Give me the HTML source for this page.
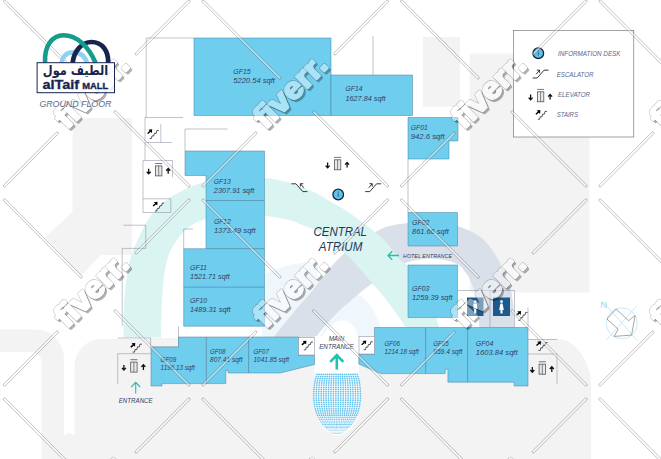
<!DOCTYPE html>
<html><head><meta charset="utf-8"><title>alTaif Mall - Ground Floor</title>
<style>html,body{margin:0;padding:0;background:#fff;}body{width:661px;height:459px;overflow:hidden;}svg{display:block;}text{font-family:"Liberation Sans",sans-serif;}.lb{font-style:italic;fill:#34415f;}.st{fill:#6fcdee;stroke:#4b7f9f;stroke-width:.5;stroke-linejoin:miter;}.ln{fill:none;stroke:#7d879d;stroke-width:.5;}</style></head><body>
<svg width="661" height="459" viewBox="0 0 661 459">
<defs>
<g id="stairs"><path d="M0.5 4.3L3.4 1.8" stroke="#000" stroke-width="1.5" fill="none"/><path d="M1.2 0.5L5 0.1L4.7 3.9Z" fill="#000"/><path d="M2.4 9.3H4.2L4.8 6.7H6.6L7.2 4.1H9L9.6 1.4H11.6" stroke="#222" stroke-width=".75" fill="none"/></g>
<g id="escR"><path d="M0 8.4H4.6L11.4 0.6H16" stroke="#222" stroke-width=".9" fill="none"/><path d="M3.6 4.6L6.9 0.6M4.2 0.5H7V3.3" stroke="#222" stroke-width=".9" fill="none"/></g>
<g id="elev"><path d="M1.6 5.6V10.4M-0.4 8.6L1.6 10.8L3.6 8.6" stroke="#111" stroke-width="1.3" fill="none"/><path d="M8.1 0.4H15.1" stroke="#555" stroke-width=".8" fill="none"/><rect x="8.4" y="2.8" width="6.4" height="10" fill="#e9e9e9" stroke="#555" stroke-width=".8"/><path d="M11.6 2.8V12.8" stroke="#555" stroke-width=".7"/><path d="M21.1 10.6V5.8M19.1 7.6L21.1 5.4L23.1 7.6" stroke="#111" stroke-width="1.3" fill="none"/></g>
<g id="info"><circle r="5.3" fill="#5fc1ea" stroke="#16233f" stroke-width="1.3"/><rect x="-.45" y="-1" width=".9" height="3.3" fill="#2a5577"/><circle cy="-2.4" r=".6" fill="#2a5577"/></g>
<clipPath id="arcclip"><rect x="0" y="0" width="661" height="337.5"/></clipPath>
</defs>
<rect width="661" height="459" fill="#fff"/>
<rect x="423" y="37" width="37" height="69.7" fill="#f3f3f3"/>
<rect x="469.7" y="53.6" width="119.8" height="238.9" fill="#f3f3f3"/>
<path d="M72.5 118H131.8V255H101L81 276L45.3 237.5L72.5 211.4Z" fill="#f3f3f3"/>
<path d="M74.5 459V366A27 27 0 0 1 101.5 339H557A34 48 0 0 1 591 388V459Z" fill="#f3f3f3"/>
<path d="M0 329.4H35A29 29 0 0 1 64 358.4V459H41.5V362A10 10 0 0 0 31.5 352H0Z" fill="#f3f3f3"/>
<path d="M64 436Q69.2 430 74.5 436V459H64Z" fill="#f3f3f3"/>
<g clip-path="url(#arcclip)">
<path d="M262 338V276C275 268 295 262 318 262V338Z" fill="#f0f7fc"/>
<path d="M318 338L332 318L345 303C350 297 354 294.5 358 295C363 296 368 302 372 308L379 322L384 338H358.5L356 330C352 322 345 319 338 321L330 326L321 338Z" fill="#f0f7fc"/>
<path d="M273.0 338.0C274.8 335.7 279.8 329.2 284.0 324.0C288.2 318.8 293.2 312.7 298.0 307.0C302.8 301.3 308.3 295.7 313.0 290.0C317.7 284.3 320.9 278.8 326.0 272.8C331.1 266.8 337.0 259.8 343.6 254.0C350.2 248.2 358.9 242.6 365.4 238.3C371.9 234.0 377.0 230.6 382.8 228.2C388.6 225.8 393.0 225.0 400.0 224.0C407.0 223.0 416.7 221.9 425.0 222.0C433.3 222.1 442.8 223.2 450.0 224.5C457.2 225.8 462.3 227.4 468.0 230.0C473.7 232.6 479.1 235.2 484.0 240.0C488.9 244.8 493.6 251.7 497.6 258.6C501.6 265.5 505.4 274.2 508.0 281.4C510.6 288.6 511.9 292.6 513.0 302.0C514.1 311.4 514.2 332.0 514.5 338.0L479.5 338.0C479.4 335.0 479.3 325.5 479.0 320.0C478.7 314.5 478.2 309.5 477.5 305.0C476.8 300.5 476.1 296.8 475.0 293.0C473.9 289.2 472.5 285.3 471.0 282.0C469.5 278.7 468.1 275.8 466.0 273.0C463.9 270.2 462.2 267.2 458.7 265.0C455.2 262.8 450.6 261.1 445.0 260.0C439.4 258.9 432.4 258.0 425.4 258.7C418.3 259.4 410.0 260.9 402.7 264.0C395.4 267.1 387.6 273.0 381.5 277.0C375.4 281.0 371.1 284.1 366.0 288.0C360.9 291.9 355.7 296.6 351.0 300.6C346.3 304.6 342.2 307.9 338.0 312.0C333.8 316.1 329.8 320.7 326.0 325.0C322.2 329.3 316.8 335.8 315.0 338.0Z" fill="#dae0ea"/>
<path d="M123.5 338.0C123.5 333.3 123.5 318.5 123.8 310.0C124.1 301.5 124.8 293.7 125.5 287.0C126.2 280.3 127.0 275.3 128.0 270.0C129.0 264.7 130.0 259.7 131.5 255.0C133.0 250.3 134.1 247.7 136.8 241.9C139.5 236.1 144.1 225.8 147.7 220.0C151.3 214.2 155.2 210.5 158.6 207.0C162.0 203.5 164.4 201.5 168.0 199.0C171.6 196.5 175.9 194.1 180.4 191.8C184.9 189.5 189.2 186.9 195.0 185.0C200.8 183.1 207.5 181.5 215.0 180.3C222.5 179.1 231.8 178.2 240.0 177.8C248.2 177.4 257.0 177.4 264.5 178.0C272.0 178.6 279.1 180.1 285.0 181.5C290.9 182.9 295.0 184.7 300.0 186.5C305.0 188.3 309.6 189.8 315.0 192.5C320.4 195.2 327.9 200.2 332.7 203.0C337.5 205.8 338.2 205.4 343.6 209.0C349.1 212.6 358.7 219.3 365.4 224.5C372.1 229.7 378.2 234.1 384.0 240.0C389.8 245.9 395.9 255.6 400.0 260.0C404.1 264.4 405.4 262.5 408.7 266.3C412.0 270.1 416.4 277.1 420.0 283.0C423.6 288.9 427.2 295.8 430.0 302.0C432.8 308.2 435.2 314.0 437.0 320.0C438.8 326.0 440.3 335.0 441.0 338.0L411.0 338.0C410.1 336.2 407.8 331.0 405.4 327.0C403.0 323.0 400.2 319.1 396.6 314.0C393.0 308.9 387.2 301.2 383.6 296.6C380.0 292.0 378.8 290.9 375.0 286.5C371.2 282.1 366.2 275.8 361.0 270.0C355.8 264.2 350.1 257.8 343.6 252.0C337.1 246.2 326.6 238.7 321.8 235.0C317.0 231.3 318.6 231.8 315.0 230.0C311.4 228.2 304.3 225.7 300.0 224.0C295.7 222.3 294.9 221.4 289.0 220.0C283.1 218.6 271.8 216.7 264.5 215.8C257.2 214.9 251.6 214.6 245.0 214.5C238.4 214.4 231.5 214.8 225.0 215.5C218.5 216.2 211.5 217.1 205.9 218.8C200.3 220.5 195.6 222.8 191.3 225.6C187.1 228.4 184.0 230.9 180.4 235.4C176.8 239.9 172.1 247.0 169.5 252.8C166.9 258.6 166.1 264.3 165.0 270.0C163.9 275.7 163.6 280.3 163.0 287.0C162.4 293.7 161.8 301.5 161.5 310.0C161.2 318.5 161.1 333.3 161.0 338.0Z" fill="#daf4f2"/>
</g>
<rect x="151" y="338" width="27.6" height="9" fill="#f3f3f3"/>
<rect x="314.5" y="336" width="44.5" height="37.5" fill="#fff"/>
<path class="ln" d="M146.2 117.5V38H194"/>
<path class="ln" d="M145 117.5H183"/>
<path class="ln" d="M145 117.5V160.5"/>
<path class="ln" d="M160.8 124V142.5M145 142.5H172"/>
<path class="ln" d="M185 151V129H227.5"/>
<path class="ln" d="M143 160.5H172.5V177.5M143 160.5V212.5H170.8V198.8H143"/>
<path class="ln" d="M123.5 225.2H145.8V248.4H122.2V325.8"/>
<path class="ln" d="M183.7 248.7V229H193"/>
<path class="ln" d="M178.5 326.3V347H151"/>
<path class="ln" d="M117.7 338H150.6V347"/>
<path class="ln" d="M117.7 384V353.7H151"/>
<path class="ln" d="M373 36V75"/>
<path class="ln" d="M408 159V213"/>
<path class="ln" d="M457.5 290.5H514.5V327.5M490 290.5V327.5"/>
<path class="ln" d="M528 307.5V327.5"/>
<path class="ln" d="M528 339.5H557M528 354H557V384"/>
<path class="st" d="M194 38H331V115.5H194Z"/>
<path class="st" d="M331 75H412.5V115.5H331Z"/>
<path class="st" d="M408 117.5H458V141H449V159H408Z"/>
<path class="st" d="M408 212.5H457.5V246H408Z"/>
<path class="st" d="M408 265H457.5V317.5H408Z"/>
<path class="st" d="M185 151H264.5V200.5H206V175.5H185Z"/>
<path class="st" d="M206 200.5H264.5V248.7H206Z"/>
<path class="st" d="M183.7 248.7H264.5V287.3H183.7Z"/>
<path class="st" d="M183.7 287.3H264.5V326.2H183.7Z"/>
<path class="st" d="M151 347H178.5V337H206.4V383.6H162V386H151Z"/>
<path class="st" d="M206.4 337H248.6V373H228.2V370.5H225.8V383.6H206.4Z"/>
<path class="st" d="M248.6 337H298.5V355H314.5V364.5L280.4 373H248.6Z"/>
<path class="st" d="M374.5 327.5H425.7V373.6H380.7L358.8 364V354.5H374.5Z"/>
<path class="st" d="M425.7 327.5H467.6V382.2H447.9V369.3H445.2V373.6H425.7Z"/>
<path class="st" d="M467.6 327.5H528V386H514.2V382.2H467.6Z"/>
<rect x="298.5" y="337.5" width="16" height="17.5" fill="#fff" stroke="#7d879d" stroke-width=".5"/>
<rect x="359" y="336.5" width="15.5" height="17.5" fill="#fff" stroke="#7d879d" stroke-width=".5"/>
<rect x="467" y="297.5" width="16.5" height="18.5" fill="#1c5a8e"/>
<rect x="493" y="297.5" width="17" height="18.5" fill="#1c5a8e"/>
<circle cx="475.2" cy="301.6" r="1.4" fill="#fff"/><path d="M473.4 303.6H477V309H476.3V313.6H474.1V309H473.4Z" fill="#fff"/>
<circle cx="501.5" cy="301.6" r="1.4" fill="#fff"/><path d="M500.4 303.6H502.6L503.8 310H502.5V313.6H500.5V310H499.2Z" fill="#fff"/>
<use href="#stairs" transform="translate(147.2 129.2)"/>
<use href="#stairs" transform="translate(152.6 201.7)"/>
<use href="#stairs" transform="translate(130.3 342.8)"/>
<use href="#stairs" transform="translate(301.4 340.6)"/>
<use href="#stairs" transform="translate(361.2 340.4)"/>
<use href="#stairs" transform="translate(516.0 311.0)"/>
<use href="#stairs" transform="translate(536.0 341.2)"/>
<use href="#stairs" transform="translate(535.4 110.0)"/>
<use href="#elev" transform="translate(147.1 163.1)"/>
<use href="#elev" transform="translate(326.0 157.0)"/>
<use href="#elev" transform="translate(122.3 359.3)"/>
<use href="#elev" transform="translate(530.7 361.4)"/>
<use href="#elev" transform="translate(529.0 89.0)"/>
<use href="#escR" transform="translate(365.2 183.2)"/>
<use href="#escR" transform="translate(307.4 183.2) scale(-1 1)"/>
<use href="#escR" transform="translate(532.6 69.6)"/>
<use href="#info" transform="translate(338.2 194.5)"/>
<use href="#info" transform="translate(538.3 53.2)"/>
<rect x="513.6" y="30.5" width="120.2" height="106.5" fill="#fff" stroke="#666" stroke-width=".6"/>
<use href="#stairs" transform="translate(535.4 110.0)"/>
<use href="#elev" transform="translate(529.0 89.0)"/>
<use href="#escR" transform="translate(532.6 69.6)"/>
<use href="#info" transform="translate(538.3 53.2)"/>
<text x="558.0" y="55.8" font-size="7.60" class="lb" textLength="62.5" lengthAdjust="spacingAndGlyphs" style="fill:#56688a">INFORMATION DESK</text>
<text x="556.7" y="76.7" font-size="7.60" class="lb" textLength="36.8" lengthAdjust="spacingAndGlyphs" style="fill:#56688a">ESCALATOR</text>
<text x="558.0" y="97.1" font-size="7.60" class="lb" textLength="32.0" lengthAdjust="spacingAndGlyphs" style="fill:#56688a">ELEVATOR</text>
<text x="556.7" y="117.2" font-size="7.60" class="lb" textLength="21.3" lengthAdjust="spacingAndGlyphs" style="fill:#56688a">STAIRS</text>
<text x="233.2" y="73.8" font-size="7.60" class="lb" textLength="17.5" lengthAdjust="spacingAndGlyphs">GF15</text>
<text x="233.2" y="83.0" font-size="7.60" class="lb" textLength="41.8" lengthAdjust="spacingAndGlyphs">5220.54 sqft</text>
<text x="345.5" y="91.2" font-size="7.60" class="lb" textLength="17.0" lengthAdjust="spacingAndGlyphs">GF14</text>
<text x="345.5" y="100.5" font-size="7.60" class="lb" textLength="40.0" lengthAdjust="spacingAndGlyphs">1627.84 sqft</text>
<text x="410.8" y="129.5" font-size="7.60" class="lb" textLength="17.0" lengthAdjust="spacingAndGlyphs">GF01</text>
<text x="410.8" y="138.8" font-size="7.60" class="lb" textLength="33.8" lengthAdjust="spacingAndGlyphs">942.6 sqft</text>
<text x="412.0" y="225.0" font-size="7.60" class="lb" textLength="17.5" lengthAdjust="spacingAndGlyphs">GF02</text>
<text x="412.0" y="234.2" font-size="7.60" class="lb" textLength="36.8" lengthAdjust="spacingAndGlyphs">861.66 sqft</text>
<text x="412.0" y="290.5" font-size="7.60" class="lb" textLength="17.5" lengthAdjust="spacingAndGlyphs">GF03</text>
<text x="412.0" y="299.5" font-size="7.60" class="lb" textLength="40.5" lengthAdjust="spacingAndGlyphs">1259.39 sqft</text>
<text x="475.8" y="345.5" font-size="7.60" class="lb" textLength="17.5" lengthAdjust="spacingAndGlyphs">GF04</text>
<text x="475.8" y="354.5" font-size="7.60" class="lb" textLength="41.8" lengthAdjust="spacingAndGlyphs">1603.84 sqft</text>
<text x="433.2" y="345.5" font-size="7.00" class="lb" textLength="15.5" lengthAdjust="spacingAndGlyphs">GF05</text>
<text x="433.2" y="353.8" font-size="7.00" class="lb" textLength="29.2" lengthAdjust="spacingAndGlyphs">959.4 sqft</text>
<text x="384.5" y="345.8" font-size="7.00" class="lb" textLength="15.5" lengthAdjust="spacingAndGlyphs">GF06</text>
<text x="384.5" y="353.8" font-size="7.00" class="lb" textLength="34.2" lengthAdjust="spacingAndGlyphs">1214.18 sqft</text>
<text x="253.5" y="354.0" font-size="7.00" class="lb" textLength="15.5" lengthAdjust="spacingAndGlyphs">GF07</text>
<text x="253.5" y="362.4" font-size="7.00" class="lb" textLength="35.5" lengthAdjust="spacingAndGlyphs">1041.85 sqft</text>
<text x="210.0" y="354.0" font-size="7.00" class="lb" textLength="15.5" lengthAdjust="spacingAndGlyphs">GF08</text>
<text x="210.0" y="362.4" font-size="7.00" class="lb" textLength="32.5" lengthAdjust="spacingAndGlyphs">807.41 sqft</text>
<text x="160.6" y="361.7" font-size="7.00" class="lb" textLength="15.5" lengthAdjust="spacingAndGlyphs">GF09</text>
<text x="160.6" y="370.0" font-size="7.00" class="lb" textLength="34.2" lengthAdjust="spacingAndGlyphs">1196.13 sqft</text>
<text x="190.0" y="302.7" font-size="7.60" class="lb" textLength="17.0" lengthAdjust="spacingAndGlyphs">GF10</text>
<text x="190.0" y="311.8" font-size="7.60" class="lb" textLength="40.6" lengthAdjust="spacingAndGlyphs">1489.31 sqft</text>
<text x="190.0" y="269.7" font-size="7.60" class="lb" textLength="17.0" lengthAdjust="spacingAndGlyphs">GF11</text>
<text x="190.0" y="279.0" font-size="7.60" class="lb" textLength="39.7" lengthAdjust="spacingAndGlyphs">1521.71 sqft</text>
<text x="213.9" y="223.7" font-size="7.60" class="lb" textLength="17.0" lengthAdjust="spacingAndGlyphs">GF12</text>
<text x="213.9" y="233.1" font-size="7.60" class="lb" textLength="41.7" lengthAdjust="spacingAndGlyphs">1373.49 sqft</text>
<text x="213.8" y="183.5" font-size="7.60" class="lb" textLength="17.0" lengthAdjust="spacingAndGlyphs">GF13</text>
<text x="213.8" y="192.8" font-size="7.60" class="lb" textLength="40.5" lengthAdjust="spacingAndGlyphs">2307.91 sqft</text>
<text x="313.6" y="235.6" font-size="13.00" class="lb" textLength="53.4" lengthAdjust="spacingAndGlyphs" style="fill:#27365a">CENTRAL</text>
<text x="318.8" y="250.7" font-size="13.00" class="lb" textLength="43.6" lengthAdjust="spacingAndGlyphs" style="fill:#27365a">ATRIUM</text>
<path d="M399 255.5H388M392.2 251.3L388 255.5L392.2 259.7" stroke="#22bfad" stroke-width="1.3" fill="none"/>
<text x="403.0" y="257.6" font-size="6.00" class="lb" textLength="49.0" lengthAdjust="spacingAndGlyphs">HOTEL ENTRANCE</text>
<text x="336.5" y="340.7" font-size="6.3" class="lb" text-anchor="middle">MAIN</text>
<text x="336.5" y="348.9" font-size="6.3" class="lb" text-anchor="middle">ENTRANCE</text>
<path d="M336.8 369.5V356.5M330.3 361.8L336.8 355.2L343.3 361.8" stroke="#1fc4ae" stroke-width="2.6" fill="none"/>
<path d="M135.7 393.5V382.5M131.2 387L135.7 382.3L140.2 387" stroke="#1fc4ae" stroke-width="1.1" fill="none"/>
<text x="135.7" y="402.8" font-size="6.4" class="lb" text-anchor="middle" textLength="34" lengthAdjust="spacingAndGlyphs">ENTRANCE</text>
<path d="M316.6 373H357.6C362 385 362.2 400 359.2 412C356 425 347 435 337.5 435.6C328 435 319 425 315.6 412C312.4 400 312.6 385 316.6 373Z" fill="#fff"/>
<g fill="#62c1ec"><circle cx="317.04" cy="374.40" r="0.87"/><circle cx="319.15" cy="374.40" r="0.87"/><circle cx="321.26" cy="374.40" r="0.87"/><circle cx="323.37" cy="374.40" r="0.87"/><circle cx="325.49" cy="374.40" r="0.87"/><circle cx="327.60" cy="374.40" r="0.87"/><circle cx="329.71" cy="374.40" r="0.87"/><circle cx="331.82" cy="374.40" r="0.87"/><circle cx="333.93" cy="374.40" r="0.87"/><circle cx="336.04" cy="374.40" r="0.87"/><circle cx="338.16" cy="374.40" r="0.87"/><circle cx="340.27" cy="374.40" r="0.87"/><circle cx="342.38" cy="374.40" r="0.87"/><circle cx="344.49" cy="374.40" r="0.87"/><circle cx="346.60" cy="374.40" r="0.87"/><circle cx="348.71" cy="374.40" r="0.87"/><circle cx="350.83" cy="374.40" r="0.87"/><circle cx="352.94" cy="374.40" r="0.87"/><circle cx="355.05" cy="374.40" r="0.87"/><circle cx="357.16" cy="374.40" r="0.87"/><circle cx="316.35" cy="376.51" r="0.88"/><circle cx="318.53" cy="376.51" r="0.88"/><circle cx="320.72" cy="376.51" r="0.88"/><circle cx="322.90" cy="376.51" r="0.88"/><circle cx="325.08" cy="376.51" r="0.88"/><circle cx="327.27" cy="376.51" r="0.88"/><circle cx="329.45" cy="376.51" r="0.88"/><circle cx="331.64" cy="376.51" r="0.88"/><circle cx="333.82" cy="376.51" r="0.88"/><circle cx="336.01" cy="376.51" r="0.88"/><circle cx="338.19" cy="376.51" r="0.88"/><circle cx="340.38" cy="376.51" r="0.88"/><circle cx="342.56" cy="376.51" r="0.88"/><circle cx="344.75" cy="376.51" r="0.88"/><circle cx="346.93" cy="376.51" r="0.88"/><circle cx="349.12" cy="376.51" r="0.88"/><circle cx="351.30" cy="376.51" r="0.88"/><circle cx="353.48" cy="376.51" r="0.88"/><circle cx="355.67" cy="376.51" r="0.88"/><circle cx="357.85" cy="376.51" r="0.88"/><circle cx="315.64" cy="378.66" r="0.88"/><circle cx="317.90" cy="378.66" r="0.88"/><circle cx="320.16" cy="378.66" r="0.88"/><circle cx="322.42" cy="378.66" r="0.88"/><circle cx="324.68" cy="378.66" r="0.88"/><circle cx="326.93" cy="378.66" r="0.88"/><circle cx="329.19" cy="378.66" r="0.88"/><circle cx="331.45" cy="378.66" r="0.88"/><circle cx="333.71" cy="378.66" r="0.88"/><circle cx="335.97" cy="378.66" r="0.88"/><circle cx="338.23" cy="378.66" r="0.88"/><circle cx="340.49" cy="378.66" r="0.88"/><circle cx="342.75" cy="378.66" r="0.88"/><circle cx="345.01" cy="378.66" r="0.88"/><circle cx="347.27" cy="378.66" r="0.88"/><circle cx="349.52" cy="378.66" r="0.88"/><circle cx="351.78" cy="378.66" r="0.88"/><circle cx="354.04" cy="378.66" r="0.88"/><circle cx="356.30" cy="378.66" r="0.88"/><circle cx="358.56" cy="378.66" r="0.88"/><circle cx="315.08" cy="380.81" r="0.88"/><circle cx="317.40" cy="380.81" r="0.88"/><circle cx="319.71" cy="380.81" r="0.88"/><circle cx="322.03" cy="380.81" r="0.88"/><circle cx="324.35" cy="380.81" r="0.88"/><circle cx="326.67" cy="380.81" r="0.88"/><circle cx="328.99" cy="380.81" r="0.88"/><circle cx="331.30" cy="380.81" r="0.88"/><circle cx="333.62" cy="380.81" r="0.88"/><circle cx="335.94" cy="380.81" r="0.88"/><circle cx="338.26" cy="380.81" r="0.88"/><circle cx="340.58" cy="380.81" r="0.88"/><circle cx="342.90" cy="380.81" r="0.88"/><circle cx="345.21" cy="380.81" r="0.88"/><circle cx="347.53" cy="380.81" r="0.88"/><circle cx="349.85" cy="380.81" r="0.88"/><circle cx="352.17" cy="380.81" r="0.88"/><circle cx="354.49" cy="380.81" r="0.88"/><circle cx="356.80" cy="380.81" r="0.88"/><circle cx="359.12" cy="380.81" r="0.88"/><circle cx="314.76" cy="382.96" r="0.88"/><circle cx="317.11" cy="382.96" r="0.88"/><circle cx="319.46" cy="382.96" r="0.88"/><circle cx="321.81" cy="382.96" r="0.88"/><circle cx="324.16" cy="382.96" r="0.88"/><circle cx="326.52" cy="382.96" r="0.88"/><circle cx="328.87" cy="382.96" r="0.88"/><circle cx="331.22" cy="382.96" r="0.88"/><circle cx="333.57" cy="382.96" r="0.88"/><circle cx="335.92" cy="382.96" r="0.88"/><circle cx="338.28" cy="382.96" r="0.88"/><circle cx="340.63" cy="382.96" r="0.88"/><circle cx="342.98" cy="382.96" r="0.88"/><circle cx="345.33" cy="382.96" r="0.88"/><circle cx="347.68" cy="382.96" r="0.88"/><circle cx="350.04" cy="382.96" r="0.88"/><circle cx="352.39" cy="382.96" r="0.88"/><circle cx="354.74" cy="382.96" r="0.88"/><circle cx="357.09" cy="382.96" r="0.88"/><circle cx="359.44" cy="382.96" r="0.88"/><circle cx="314.43" cy="385.11" r="0.88"/><circle cx="316.82" cy="385.11" r="0.88"/><circle cx="319.21" cy="385.11" r="0.88"/><circle cx="321.59" cy="385.11" r="0.88"/><circle cx="323.98" cy="385.11" r="0.88"/><circle cx="326.36" cy="385.11" r="0.88"/><circle cx="328.75" cy="385.11" r="0.88"/><circle cx="331.14" cy="385.11" r="0.88"/><circle cx="333.52" cy="385.11" r="0.88"/><circle cx="335.91" cy="385.11" r="0.88"/><circle cx="338.29" cy="385.11" r="0.88"/><circle cx="340.68" cy="385.11" r="0.88"/><circle cx="343.06" cy="385.11" r="0.88"/><circle cx="345.45" cy="385.11" r="0.88"/><circle cx="347.84" cy="385.11" r="0.88"/><circle cx="350.22" cy="385.11" r="0.88"/><circle cx="352.61" cy="385.11" r="0.88"/><circle cx="354.99" cy="385.11" r="0.88"/><circle cx="357.38" cy="385.11" r="0.88"/><circle cx="359.77" cy="385.11" r="0.88"/><circle cx="314.11" cy="387.26" r="0.88"/><circle cx="316.53" cy="387.26" r="0.88"/><circle cx="318.95" cy="387.26" r="0.88"/><circle cx="321.37" cy="387.26" r="0.88"/><circle cx="323.79" cy="387.26" r="0.88"/><circle cx="326.21" cy="387.26" r="0.88"/><circle cx="328.63" cy="387.26" r="0.88"/><circle cx="331.05" cy="387.26" r="0.88"/><circle cx="333.47" cy="387.26" r="0.88"/><circle cx="335.89" cy="387.26" r="0.88"/><circle cx="338.31" cy="387.26" r="0.88"/><circle cx="340.73" cy="387.26" r="0.88"/><circle cx="343.15" cy="387.26" r="0.88"/><circle cx="345.57" cy="387.26" r="0.88"/><circle cx="347.99" cy="387.26" r="0.88"/><circle cx="350.41" cy="387.26" r="0.88"/><circle cx="352.83" cy="387.26" r="0.88"/><circle cx="355.25" cy="387.26" r="0.88"/><circle cx="357.67" cy="387.26" r="0.88"/><circle cx="360.09" cy="387.26" r="0.88"/><circle cx="313.96" cy="389.41" r="0.88"/><circle cx="316.39" cy="389.41" r="0.88"/><circle cx="318.83" cy="389.41" r="0.88"/><circle cx="321.27" cy="389.41" r="0.88"/><circle cx="323.70" cy="389.41" r="0.88"/><circle cx="326.14" cy="389.41" r="0.88"/><circle cx="328.57" cy="389.41" r="0.88"/><circle cx="331.01" cy="389.41" r="0.88"/><circle cx="333.45" cy="389.41" r="0.88"/><circle cx="335.88" cy="389.41" r="0.88"/><circle cx="338.32" cy="389.41" r="0.88"/><circle cx="340.75" cy="389.41" r="0.88"/><circle cx="343.19" cy="389.41" r="0.88"/><circle cx="345.63" cy="389.41" r="0.88"/><circle cx="348.06" cy="389.41" r="0.88"/><circle cx="350.50" cy="389.41" r="0.88"/><circle cx="352.93" cy="389.41" r="0.88"/><circle cx="355.37" cy="389.41" r="0.88"/><circle cx="357.81" cy="389.41" r="0.88"/><circle cx="360.24" cy="389.41" r="0.88"/><circle cx="313.89" cy="391.56" r="0.88"/><circle cx="316.34" cy="391.56" r="0.88"/><circle cx="318.78" cy="391.56" r="0.88"/><circle cx="321.22" cy="391.56" r="0.88"/><circle cx="323.66" cy="391.56" r="0.88"/><circle cx="326.11" cy="391.56" r="0.88"/><circle cx="328.55" cy="391.56" r="0.88"/><circle cx="330.99" cy="391.56" r="0.88"/><circle cx="333.44" cy="391.56" r="0.88"/><circle cx="335.88" cy="391.56" r="0.88"/><circle cx="338.32" cy="391.56" r="0.88"/><circle cx="340.76" cy="391.56" r="0.88"/><circle cx="343.21" cy="391.56" r="0.88"/><circle cx="345.65" cy="391.56" r="0.88"/><circle cx="348.09" cy="391.56" r="0.88"/><circle cx="350.54" cy="391.56" r="0.88"/><circle cx="352.98" cy="391.56" r="0.88"/><circle cx="355.42" cy="391.56" r="0.88"/><circle cx="357.86" cy="391.56" r="0.88"/><circle cx="360.31" cy="391.56" r="0.88"/><circle cx="313.83" cy="393.71" r="0.88"/><circle cx="316.28" cy="393.71" r="0.88"/><circle cx="318.73" cy="393.71" r="0.88"/><circle cx="321.18" cy="393.71" r="0.88"/><circle cx="323.63" cy="393.71" r="0.88"/><circle cx="326.08" cy="393.71" r="0.88"/><circle cx="328.53" cy="393.71" r="0.88"/><circle cx="330.98" cy="393.71" r="0.88"/><circle cx="333.43" cy="393.71" r="0.88"/><circle cx="335.88" cy="393.71" r="0.88"/><circle cx="338.32" cy="393.71" r="0.88"/><circle cx="340.77" cy="393.71" r="0.88"/><circle cx="343.22" cy="393.71" r="0.88"/><circle cx="345.67" cy="393.71" r="0.88"/><circle cx="348.12" cy="393.71" r="0.88"/><circle cx="350.57" cy="393.71" r="0.88"/><circle cx="353.02" cy="393.71" r="0.88"/><circle cx="355.47" cy="393.71" r="0.88"/><circle cx="357.92" cy="393.71" r="0.88"/><circle cx="360.37" cy="393.71" r="0.88"/><circle cx="313.76" cy="395.86" r="0.88"/><circle cx="316.22" cy="395.86" r="0.88"/><circle cx="318.68" cy="395.86" r="0.88"/><circle cx="321.13" cy="395.86" r="0.88"/><circle cx="323.59" cy="395.86" r="0.88"/><circle cx="326.05" cy="395.86" r="0.88"/><circle cx="328.50" cy="395.86" r="0.88"/><circle cx="330.96" cy="395.86" r="0.88"/><circle cx="333.42" cy="395.86" r="0.88"/><circle cx="335.87" cy="395.86" r="0.88"/><circle cx="338.33" cy="395.86" r="0.88"/><circle cx="340.78" cy="395.86" r="0.88"/><circle cx="343.24" cy="395.86" r="0.88"/><circle cx="345.70" cy="395.86" r="0.88"/><circle cx="348.15" cy="395.86" r="0.88"/><circle cx="350.61" cy="395.86" r="0.88"/><circle cx="353.07" cy="395.86" r="0.88"/><circle cx="355.52" cy="395.86" r="0.88"/><circle cx="357.98" cy="395.86" r="0.88"/><circle cx="360.44" cy="395.86" r="0.88"/><circle cx="313.70" cy="398.01" r="0.88"/><circle cx="316.16" cy="398.01" r="0.88"/><circle cx="318.63" cy="398.01" r="0.88"/><circle cx="321.09" cy="398.01" r="0.88"/><circle cx="323.55" cy="398.01" r="0.88"/><circle cx="326.02" cy="398.01" r="0.88"/><circle cx="328.48" cy="398.01" r="0.88"/><circle cx="330.94" cy="398.01" r="0.88"/><circle cx="333.41" cy="398.01" r="0.88"/><circle cx="335.87" cy="398.01" r="0.88"/><circle cx="338.33" cy="398.01" r="0.88"/><circle cx="340.79" cy="398.01" r="0.88"/><circle cx="343.26" cy="398.01" r="0.88"/><circle cx="345.72" cy="398.01" r="0.88"/><circle cx="348.18" cy="398.01" r="0.88"/><circle cx="350.65" cy="398.01" r="0.88"/><circle cx="353.11" cy="398.01" r="0.88"/><circle cx="355.57" cy="398.01" r="0.88"/><circle cx="358.04" cy="398.01" r="0.88"/><circle cx="360.50" cy="398.01" r="0.88"/><circle cx="313.97" cy="400.16" r="0.88"/><circle cx="316.40" cy="400.16" r="0.88"/><circle cx="318.84" cy="400.16" r="0.88"/><circle cx="321.27" cy="400.16" r="0.88"/><circle cx="323.71" cy="400.16" r="0.88"/><circle cx="326.14" cy="400.16" r="0.88"/><circle cx="328.58" cy="400.16" r="0.88"/><circle cx="331.01" cy="400.16" r="0.88"/><circle cx="333.45" cy="400.16" r="0.88"/><circle cx="335.88" cy="400.16" r="0.88"/><circle cx="338.32" cy="400.16" r="0.88"/><circle cx="340.75" cy="400.16" r="0.88"/><circle cx="343.19" cy="400.16" r="0.88"/><circle cx="345.62" cy="400.16" r="0.88"/><circle cx="348.06" cy="400.16" r="0.88"/><circle cx="350.49" cy="400.16" r="0.88"/><circle cx="352.93" cy="400.16" r="0.88"/><circle cx="355.36" cy="400.16" r="0.88"/><circle cx="357.80" cy="400.16" r="0.88"/><circle cx="360.23" cy="400.16" r="0.88"/><circle cx="314.24" cy="402.31" r="0.88"/><circle cx="316.65" cy="402.31" r="0.88"/><circle cx="319.05" cy="402.31" r="0.88"/><circle cx="321.46" cy="402.31" r="0.88"/><circle cx="323.86" cy="402.31" r="0.88"/><circle cx="326.27" cy="402.31" r="0.88"/><circle cx="328.68" cy="402.31" r="0.88"/><circle cx="331.08" cy="402.31" r="0.88"/><circle cx="333.49" cy="402.31" r="0.88"/><circle cx="335.90" cy="402.31" r="0.88"/><circle cx="338.30" cy="402.31" r="0.88"/><circle cx="340.71" cy="402.31" r="0.88"/><circle cx="343.12" cy="402.31" r="0.88"/><circle cx="345.52" cy="402.31" r="0.88"/><circle cx="347.93" cy="402.31" r="0.88"/><circle cx="350.34" cy="402.31" r="0.88"/><circle cx="352.74" cy="402.31" r="0.88"/><circle cx="355.15" cy="402.31" r="0.88"/><circle cx="357.55" cy="402.31" r="0.88"/><circle cx="359.96" cy="402.31" r="0.88"/><circle cx="314.51" cy="404.46" r="0.88"/><circle cx="316.89" cy="404.46" r="0.88"/><circle cx="319.26" cy="404.46" r="0.88"/><circle cx="321.64" cy="404.46" r="0.88"/><circle cx="324.02" cy="404.46" r="0.88"/><circle cx="326.40" cy="404.46" r="0.88"/><circle cx="328.78" cy="404.46" r="0.88"/><circle cx="331.15" cy="404.46" r="0.88"/><circle cx="333.53" cy="404.46" r="0.88"/><circle cx="335.91" cy="404.46" r="0.88"/><circle cx="338.29" cy="404.46" r="0.88"/><circle cx="340.67" cy="404.46" r="0.88"/><circle cx="343.05" cy="404.46" r="0.88"/><circle cx="345.42" cy="404.46" r="0.88"/><circle cx="347.80" cy="404.46" r="0.88"/><circle cx="350.18" cy="404.46" r="0.88"/><circle cx="352.56" cy="404.46" r="0.88"/><circle cx="354.94" cy="404.46" r="0.88"/><circle cx="357.31" cy="404.46" r="0.88"/><circle cx="359.69" cy="404.46" r="0.88"/><circle cx="314.85" cy="406.61" r="0.88"/><circle cx="317.19" cy="406.61" r="0.88"/><circle cx="319.54" cy="406.61" r="0.88"/><circle cx="321.88" cy="406.61" r="0.88"/><circle cx="324.22" cy="406.61" r="0.88"/><circle cx="326.56" cy="406.61" r="0.88"/><circle cx="328.90" cy="406.61" r="0.88"/><circle cx="331.25" cy="406.61" r="0.88"/><circle cx="333.59" cy="406.61" r="0.88"/><circle cx="335.93" cy="406.61" r="0.88"/><circle cx="338.27" cy="406.61" r="0.88"/><circle cx="340.61" cy="406.61" r="0.88"/><circle cx="342.95" cy="406.61" r="0.88"/><circle cx="345.30" cy="406.61" r="0.88"/><circle cx="347.64" cy="406.61" r="0.88"/><circle cx="349.98" cy="406.61" r="0.88"/><circle cx="352.32" cy="406.61" r="0.88"/><circle cx="354.66" cy="406.61" r="0.88"/><circle cx="357.01" cy="406.61" r="0.88"/><circle cx="359.35" cy="406.61" r="0.88"/><circle cx="315.39" cy="408.76" r="0.88"/><circle cx="317.68" cy="408.76" r="0.88"/><circle cx="319.96" cy="408.76" r="0.88"/><circle cx="322.25" cy="408.76" r="0.88"/><circle cx="324.53" cy="408.76" r="0.88"/><circle cx="326.82" cy="408.76" r="0.88"/><circle cx="329.10" cy="408.76" r="0.88"/><circle cx="331.39" cy="408.76" r="0.88"/><circle cx="333.67" cy="408.76" r="0.88"/><circle cx="335.96" cy="408.76" r="0.88"/><circle cx="338.24" cy="408.76" r="0.88"/><circle cx="340.53" cy="408.76" r="0.88"/><circle cx="342.81" cy="408.76" r="0.88"/><circle cx="345.10" cy="408.76" r="0.88"/><circle cx="347.38" cy="408.76" r="0.88"/><circle cx="349.67" cy="408.76" r="0.88"/><circle cx="351.95" cy="408.76" r="0.88"/><circle cx="354.24" cy="408.76" r="0.88"/><circle cx="356.52" cy="408.76" r="0.88"/><circle cx="358.81" cy="408.76" r="0.88"/><circle cx="315.93" cy="410.91" r="0.88"/><circle cx="318.16" cy="410.91" r="0.88"/><circle cx="320.39" cy="410.91" r="0.88"/><circle cx="322.61" cy="410.91" r="0.88"/><circle cx="324.84" cy="410.91" r="0.88"/><circle cx="327.07" cy="410.91" r="0.88"/><circle cx="329.30" cy="410.91" r="0.88"/><circle cx="331.53" cy="410.91" r="0.88"/><circle cx="333.76" cy="410.91" r="0.88"/><circle cx="335.99" cy="410.91" r="0.88"/><circle cx="338.21" cy="410.91" r="0.88"/><circle cx="340.44" cy="410.91" r="0.88"/><circle cx="342.67" cy="410.91" r="0.88"/><circle cx="344.90" cy="410.91" r="0.88"/><circle cx="347.13" cy="410.91" r="0.88"/><circle cx="349.36" cy="410.91" r="0.88"/><circle cx="351.59" cy="410.91" r="0.88"/><circle cx="353.81" cy="410.91" r="0.88"/><circle cx="356.04" cy="410.91" r="0.88"/><circle cx="358.27" cy="410.91" r="0.88"/><circle cx="316.64" cy="413.06" r="0.88"/><circle cx="318.80" cy="413.06" r="0.88"/><circle cx="320.95" cy="413.06" r="0.88"/><circle cx="323.10" cy="413.06" r="0.88"/><circle cx="325.26" cy="413.06" r="0.88"/><circle cx="327.41" cy="413.06" r="0.88"/><circle cx="329.56" cy="413.06" r="0.88"/><circle cx="331.72" cy="413.06" r="0.88"/><circle cx="333.87" cy="413.06" r="0.88"/><circle cx="336.02" cy="413.06" r="0.88"/><circle cx="338.18" cy="413.06" r="0.88"/><circle cx="340.33" cy="413.06" r="0.88"/><circle cx="342.48" cy="413.06" r="0.88"/><circle cx="344.64" cy="413.06" r="0.88"/><circle cx="346.79" cy="413.06" r="0.88"/><circle cx="348.94" cy="413.06" r="0.88"/><circle cx="351.10" cy="413.06" r="0.88"/><circle cx="353.25" cy="413.06" r="0.88"/><circle cx="355.40" cy="413.06" r="0.88"/><circle cx="357.56" cy="413.06" r="0.88"/><circle cx="317.54" cy="415.21" r="0.84"/><circle cx="319.60" cy="415.21" r="0.84"/><circle cx="321.66" cy="415.21" r="0.84"/><circle cx="323.72" cy="415.21" r="0.84"/><circle cx="325.77" cy="415.21" r="0.84"/><circle cx="327.83" cy="415.21" r="0.84"/><circle cx="329.89" cy="415.21" r="0.84"/><circle cx="331.95" cy="415.21" r="0.84"/><circle cx="334.01" cy="415.21" r="0.84"/><circle cx="336.07" cy="415.21" r="0.84"/><circle cx="338.13" cy="415.21" r="0.84"/><circle cx="340.19" cy="415.21" r="0.84"/><circle cx="342.25" cy="415.21" r="0.84"/><circle cx="344.31" cy="415.21" r="0.84"/><circle cx="346.37" cy="415.21" r="0.84"/><circle cx="348.43" cy="415.21" r="0.84"/><circle cx="350.48" cy="415.21" r="0.84"/><circle cx="352.54" cy="415.21" r="0.84"/><circle cx="354.60" cy="415.21" r="0.84"/><circle cx="356.66" cy="415.21" r="0.84"/><circle cx="318.40" cy="417.27" r="0.81"/><circle cx="320.36" cy="417.27" r="0.81"/><circle cx="322.33" cy="417.27" r="0.81"/><circle cx="324.30" cy="417.27" r="0.81"/><circle cx="326.27" cy="417.27" r="0.81"/><circle cx="328.24" cy="417.27" r="0.81"/><circle cx="330.21" cy="417.27" r="0.81"/><circle cx="332.18" cy="417.27" r="0.81"/><circle cx="334.15" cy="417.27" r="0.81"/><circle cx="336.12" cy="417.27" r="0.81"/><circle cx="338.08" cy="417.27" r="0.81"/><circle cx="340.05" cy="417.27" r="0.81"/><circle cx="342.02" cy="417.27" r="0.81"/><circle cx="343.99" cy="417.27" r="0.81"/><circle cx="345.96" cy="417.27" r="0.81"/><circle cx="347.93" cy="417.27" r="0.81"/><circle cx="349.90" cy="417.27" r="0.81"/><circle cx="351.87" cy="417.27" r="0.81"/><circle cx="353.84" cy="417.27" r="0.81"/><circle cx="355.80" cy="417.27" r="0.81"/><circle cx="319.42" cy="419.24" r="0.76"/><circle cx="321.28" cy="419.24" r="0.76"/><circle cx="323.14" cy="419.24" r="0.76"/><circle cx="325.01" cy="419.24" r="0.76"/><circle cx="326.87" cy="419.24" r="0.76"/><circle cx="328.73" cy="419.24" r="0.76"/><circle cx="330.59" cy="419.24" r="0.76"/><circle cx="332.45" cy="419.24" r="0.76"/><circle cx="334.31" cy="419.24" r="0.76"/><circle cx="336.17" cy="419.24" r="0.76"/><circle cx="338.03" cy="419.24" r="0.76"/><circle cx="339.89" cy="419.24" r="0.76"/><circle cx="341.75" cy="419.24" r="0.76"/><circle cx="343.61" cy="419.24" r="0.76"/><circle cx="345.47" cy="419.24" r="0.76"/><circle cx="347.33" cy="419.24" r="0.76"/><circle cx="349.19" cy="419.24" r="0.76"/><circle cx="351.06" cy="419.24" r="0.76"/><circle cx="352.92" cy="419.24" r="0.76"/><circle cx="354.78" cy="419.24" r="0.76"/><circle cx="320.51" cy="421.10" r="0.72"/><circle cx="322.25" cy="421.10" r="0.72"/><circle cx="324.00" cy="421.10" r="0.72"/><circle cx="325.75" cy="421.10" r="0.72"/><circle cx="327.49" cy="421.10" r="0.72"/><circle cx="329.24" cy="421.10" r="0.72"/><circle cx="330.99" cy="421.10" r="0.72"/><circle cx="332.73" cy="421.10" r="0.72"/><circle cx="334.48" cy="421.10" r="0.72"/><circle cx="336.23" cy="421.10" r="0.72"/><circle cx="337.97" cy="421.10" r="0.72"/><circle cx="339.72" cy="421.10" r="0.72"/><circle cx="341.47" cy="421.10" r="0.72"/><circle cx="343.21" cy="421.10" r="0.72"/><circle cx="344.96" cy="421.10" r="0.72"/><circle cx="346.71" cy="421.10" r="0.72"/><circle cx="348.45" cy="421.10" r="0.72"/><circle cx="350.20" cy="421.10" r="0.72"/><circle cx="351.95" cy="421.10" r="0.72"/><circle cx="353.69" cy="421.10" r="0.72"/><circle cx="321.53" cy="422.85" r="0.67"/><circle cx="323.17" cy="422.85" r="0.67"/><circle cx="324.81" cy="422.85" r="0.67"/><circle cx="326.44" cy="422.85" r="0.67"/><circle cx="328.08" cy="422.85" r="0.67"/><circle cx="329.72" cy="422.85" r="0.67"/><circle cx="331.36" cy="422.85" r="0.67"/><circle cx="333.00" cy="422.85" r="0.67"/><circle cx="334.64" cy="422.85" r="0.67"/><circle cx="336.28" cy="422.85" r="0.67"/><circle cx="337.92" cy="422.85" r="0.67"/><circle cx="339.56" cy="422.85" r="0.67"/><circle cx="341.20" cy="422.85" r="0.67"/><circle cx="342.84" cy="422.85" r="0.67"/><circle cx="344.48" cy="422.85" r="0.67"/><circle cx="346.12" cy="422.85" r="0.67"/><circle cx="347.76" cy="422.85" r="0.67"/><circle cx="349.39" cy="422.85" r="0.67"/><circle cx="351.03" cy="422.85" r="0.67"/><circle cx="352.67" cy="422.85" r="0.67"/><circle cx="322.62" cy="424.49" r="0.63"/><circle cx="324.14" cy="424.49" r="0.63"/><circle cx="325.67" cy="424.49" r="0.63"/><circle cx="327.19" cy="424.49" r="0.63"/><circle cx="328.72" cy="424.49" r="0.63"/><circle cx="330.24" cy="424.49" r="0.63"/><circle cx="331.76" cy="424.49" r="0.63"/><circle cx="333.29" cy="424.49" r="0.63"/><circle cx="334.81" cy="424.49" r="0.63"/><circle cx="336.34" cy="424.49" r="0.63"/><circle cx="337.86" cy="424.49" r="0.63"/><circle cx="339.39" cy="424.49" r="0.63"/><circle cx="340.91" cy="424.49" r="0.63"/><circle cx="342.44" cy="424.49" r="0.63"/><circle cx="343.96" cy="424.49" r="0.63"/><circle cx="345.48" cy="424.49" r="0.63"/><circle cx="347.01" cy="424.49" r="0.63"/><circle cx="348.53" cy="424.49" r="0.63"/><circle cx="350.06" cy="424.49" r="0.63"/><circle cx="351.58" cy="424.49" r="0.63"/><circle cx="323.93" cy="426.01" r="0.57"/><circle cx="325.32" cy="426.01" r="0.57"/><circle cx="326.70" cy="426.01" r="0.57"/><circle cx="328.09" cy="426.01" r="0.57"/><circle cx="329.47" cy="426.01" r="0.57"/><circle cx="330.86" cy="426.01" r="0.57"/><circle cx="332.25" cy="426.01" r="0.57"/><circle cx="333.63" cy="426.01" r="0.57"/><circle cx="335.02" cy="426.01" r="0.57"/><circle cx="336.41" cy="426.01" r="0.57"/><circle cx="337.79" cy="426.01" r="0.57"/><circle cx="339.18" cy="426.01" r="0.57"/><circle cx="340.57" cy="426.01" r="0.57"/><circle cx="341.95" cy="426.01" r="0.57"/><circle cx="343.34" cy="426.01" r="0.57"/><circle cx="344.73" cy="426.01" r="0.57"/><circle cx="346.11" cy="426.01" r="0.57"/><circle cx="347.50" cy="426.01" r="0.57"/><circle cx="348.88" cy="426.01" r="0.57"/><circle cx="350.27" cy="426.01" r="0.57"/><circle cx="325.22" cy="427.51" r="0.51"/><circle cx="326.47" cy="427.51" r="0.51"/><circle cx="327.72" cy="427.51" r="0.51"/><circle cx="328.97" cy="427.51" r="0.51"/><circle cx="330.22" cy="427.51" r="0.51"/><circle cx="331.47" cy="427.51" r="0.51"/><circle cx="332.72" cy="427.51" r="0.51"/><circle cx="333.97" cy="427.51" r="0.51"/><circle cx="335.22" cy="427.51" r="0.51"/><circle cx="336.47" cy="427.51" r="0.51"/><circle cx="337.73" cy="427.51" r="0.51"/><circle cx="338.98" cy="427.51" r="0.51"/><circle cx="340.23" cy="427.51" r="0.51"/><circle cx="341.48" cy="427.51" r="0.51"/><circle cx="342.73" cy="427.51" r="0.51"/><circle cx="343.98" cy="427.51" r="0.51"/><circle cx="345.23" cy="427.51" r="0.51"/><circle cx="346.48" cy="427.51" r="0.51"/><circle cx="347.73" cy="427.51" r="0.51"/><circle cx="348.98" cy="427.51" r="0.51"/><circle cx="326.51" cy="429.01" r="0.46"/><circle cx="327.63" cy="429.01" r="0.46"/><circle cx="328.74" cy="429.01" r="0.46"/><circle cx="329.86" cy="429.01" r="0.46"/><circle cx="330.97" cy="429.01" r="0.46"/><circle cx="332.09" cy="429.01" r="0.46"/><circle cx="333.20" cy="429.01" r="0.46"/><circle cx="334.31" cy="429.01" r="0.46"/><circle cx="335.43" cy="429.01" r="0.46"/><circle cx="336.54" cy="429.01" r="0.46"/><circle cx="337.66" cy="429.01" r="0.46"/><circle cx="338.77" cy="429.01" r="0.46"/><circle cx="339.89" cy="429.01" r="0.46"/><circle cx="341.00" cy="429.01" r="0.46"/><circle cx="342.11" cy="429.01" r="0.46"/><circle cx="343.23" cy="429.01" r="0.46"/><circle cx="344.34" cy="429.01" r="0.46"/><circle cx="345.46" cy="429.01" r="0.46"/><circle cx="346.57" cy="429.01" r="0.46"/><circle cx="347.69" cy="429.01" r="0.46"/><circle cx="328.39" cy="430.51" r="0.38"/><circle cx="329.31" cy="430.51" r="0.38"/><circle cx="330.22" cy="430.51" r="0.38"/><circle cx="331.14" cy="430.51" r="0.38"/><circle cx="332.06" cy="430.51" r="0.38"/><circle cx="332.97" cy="430.51" r="0.38"/><circle cx="333.89" cy="430.51" r="0.38"/><circle cx="334.81" cy="430.51" r="0.38"/><circle cx="335.72" cy="430.51" r="0.38"/><circle cx="336.64" cy="430.51" r="0.38"/><circle cx="337.56" cy="430.51" r="0.38"/><circle cx="338.48" cy="430.51" r="0.38"/><circle cx="339.39" cy="430.51" r="0.38"/><circle cx="340.31" cy="430.51" r="0.38"/><circle cx="341.23" cy="430.51" r="0.38"/><circle cx="342.14" cy="430.51" r="0.38"/><circle cx="343.06" cy="430.51" r="0.38"/><circle cx="343.98" cy="430.51" r="0.38"/><circle cx="344.89" cy="430.51" r="0.38"/><circle cx="345.81" cy="430.51" r="0.38"/><circle cx="330.26" cy="432.01" r="0.35"/><circle cx="330.98" cy="432.01" r="0.35"/><circle cx="331.70" cy="432.01" r="0.35"/><circle cx="332.42" cy="432.01" r="0.35"/><circle cx="333.14" cy="432.01" r="0.35"/><circle cx="333.86" cy="432.01" r="0.35"/><circle cx="334.58" cy="432.01" r="0.35"/><circle cx="335.30" cy="432.01" r="0.35"/><circle cx="336.02" cy="432.01" r="0.35"/><circle cx="336.74" cy="432.01" r="0.35"/><circle cx="337.46" cy="432.01" r="0.35"/><circle cx="338.18" cy="432.01" r="0.35"/><circle cx="338.90" cy="432.01" r="0.35"/><circle cx="339.62" cy="432.01" r="0.35"/><circle cx="340.34" cy="432.01" r="0.35"/><circle cx="341.06" cy="432.01" r="0.35"/><circle cx="341.78" cy="432.01" r="0.35"/><circle cx="342.50" cy="432.01" r="0.35"/><circle cx="343.22" cy="432.01" r="0.35"/><circle cx="343.94" cy="432.01" r="0.35"/><circle cx="332.68" cy="433.51" r="0.35"/><circle cx="333.14" cy="433.51" r="0.35"/><circle cx="333.61" cy="433.51" r="0.35"/><circle cx="334.07" cy="433.51" r="0.35"/><circle cx="334.54" cy="433.51" r="0.35"/><circle cx="335.01" cy="433.51" r="0.35"/><circle cx="335.47" cy="433.51" r="0.35"/><circle cx="335.94" cy="433.51" r="0.35"/><circle cx="336.40" cy="433.51" r="0.35"/><circle cx="336.87" cy="433.51" r="0.35"/><circle cx="337.33" cy="433.51" r="0.35"/><circle cx="337.80" cy="433.51" r="0.35"/><circle cx="338.26" cy="433.51" r="0.35"/><circle cx="338.73" cy="433.51" r="0.35"/><circle cx="339.19" cy="433.51" r="0.35"/><circle cx="339.66" cy="433.51" r="0.35"/><circle cx="340.13" cy="433.51" r="0.35"/><circle cx="340.59" cy="433.51" r="0.35"/><circle cx="341.06" cy="433.51" r="0.35"/><circle cx="341.52" cy="433.51" r="0.35"/></g>
<g stroke="#a6d8f2" stroke-width=".6" fill="none"><circle cx="621.8" cy="323.3" r="15.5"/><path d="M602.4 301.1L637 340.3M636.4 306.3L606.3 340.3"/></g>
<path d="M616.1 309L628.6 320.7L635.1 315.5L631.6 335.1L614.2 336.4L618.1 329.2L607 319Z" fill="none" stroke="#6a6a6a" stroke-width=".6"/>
<text x="600.3" y="308.2" font-size="9.5" fill="#a6d8f2">N</text>
<g><g transform="translate(4.6 1.1) rotate(45.1)"><rect x="-1.2" y="-1.20" width="110.9" height="2.40" rx="1.20" fill="#fff" fill-opacity=".4" stroke="#000" stroke-opacity=".25" stroke-width=".9"/></g><g transform="translate(-9.6 -13.1) rotate(-134.9)"><rect x="-1.2" y="-1.20" width="106.9" height="2.40" rx="1.20" fill="#fff" fill-opacity=".4" stroke="#000" stroke-opacity=".25" stroke-width=".9"/></g><g transform="translate(4.6 -13.1) rotate(-45.1)"><rect x="-1.2" y="-1.20" width="76.9" height="2.40" rx="1.20" fill="#fff" fill-opacity=".4" stroke="#000" stroke-opacity=".25" stroke-width=".9"/></g><g transform="translate(-9.6 1.1) rotate(134.9)"><rect x="-1.2" y="-1.20" width="76.9" height="2.40" rx="1.20" fill="#fff" fill-opacity=".4" stroke="#000" stroke-opacity=".25" stroke-width=".9"/></g><g transform="translate(4.6 200.1) rotate(45.1)"><rect x="-1.2" y="-1.20" width="110.9" height="2.40" rx="1.20" fill="#fff" fill-opacity=".4" stroke="#000" stroke-opacity=".25" stroke-width=".9"/></g><g transform="translate(-9.6 185.9) rotate(-134.9)"><rect x="-1.2" y="-1.20" width="106.9" height="2.40" rx="1.20" fill="#fff" fill-opacity=".4" stroke="#000" stroke-opacity=".25" stroke-width=".9"/></g><g transform="translate(4.6 185.9) rotate(-45.1)"><rect x="-1.2" y="-1.20" width="76.9" height="2.40" rx="1.20" fill="#fff" fill-opacity=".4" stroke="#000" stroke-opacity=".25" stroke-width=".9"/></g><g transform="translate(-9.6 200.1) rotate(134.9)"><rect x="-1.2" y="-1.20" width="76.9" height="2.40" rx="1.20" fill="#fff" fill-opacity=".4" stroke="#000" stroke-opacity=".25" stroke-width=".9"/></g><g transform="translate(4.6 399.1) rotate(45.1)"><rect x="-1.2" y="-1.20" width="110.9" height="2.40" rx="1.20" fill="#fff" fill-opacity=".4" stroke="#000" stroke-opacity=".25" stroke-width=".9"/></g><g transform="translate(-9.6 384.9) rotate(-134.9)"><rect x="-1.2" y="-1.20" width="106.9" height="2.40" rx="1.20" fill="#fff" fill-opacity=".4" stroke="#000" stroke-opacity=".25" stroke-width=".9"/></g><g transform="translate(4.6 384.9) rotate(-45.1)"><rect x="-1.2" y="-1.20" width="76.9" height="2.40" rx="1.20" fill="#fff" fill-opacity=".4" stroke="#000" stroke-opacity=".25" stroke-width=".9"/></g><g transform="translate(-9.6 399.1) rotate(134.9)"><rect x="-1.2" y="-1.20" width="76.9" height="2.40" rx="1.20" fill="#fff" fill-opacity=".4" stroke="#000" stroke-opacity=".25" stroke-width=".9"/></g><g transform="translate(4.6 598.1) rotate(45.1)"><rect x="-1.2" y="-1.20" width="110.9" height="2.40" rx="1.20" fill="#fff" fill-opacity=".4" stroke="#000" stroke-opacity=".25" stroke-width=".9"/></g><g transform="translate(-9.6 583.9) rotate(-134.9)"><rect x="-1.2" y="-1.20" width="106.9" height="2.40" rx="1.20" fill="#fff" fill-opacity=".4" stroke="#000" stroke-opacity=".25" stroke-width=".9"/></g><g transform="translate(4.6 583.9) rotate(-45.1)"><rect x="-1.2" y="-1.20" width="76.9" height="2.40" rx="1.20" fill="#fff" fill-opacity=".4" stroke="#000" stroke-opacity=".25" stroke-width=".9"/></g><g transform="translate(-9.6 598.1) rotate(134.9)"><rect x="-1.2" y="-1.20" width="76.9" height="2.40" rx="1.20" fill="#fff" fill-opacity=".4" stroke="#000" stroke-opacity=".25" stroke-width=".9"/></g><g transform="translate(203.1 1.1) rotate(45.1)"><rect x="-1.2" y="-1.20" width="110.9" height="2.40" rx="1.20" fill="#fff" fill-opacity=".4" stroke="#000" stroke-opacity=".25" stroke-width=".9"/></g><g transform="translate(188.9 -13.1) rotate(-134.9)"><rect x="-1.2" y="-1.20" width="106.9" height="2.40" rx="1.20" fill="#fff" fill-opacity=".4" stroke="#000" stroke-opacity=".25" stroke-width=".9"/></g><g transform="translate(203.1 -13.1) rotate(-45.1)"><rect x="-1.2" y="-1.20" width="76.9" height="2.40" rx="1.20" fill="#fff" fill-opacity=".4" stroke="#000" stroke-opacity=".25" stroke-width=".9"/></g><g transform="translate(188.9 1.1) rotate(134.9)"><rect x="-1.2" y="-1.20" width="76.9" height="2.40" rx="1.20" fill="#fff" fill-opacity=".4" stroke="#000" stroke-opacity=".25" stroke-width=".9"/></g><g transform="translate(203.1 200.1) rotate(45.1)"><rect x="-1.2" y="-1.20" width="110.9" height="2.40" rx="1.20" fill="#fff" fill-opacity=".4" stroke="#000" stroke-opacity=".25" stroke-width=".9"/></g><g transform="translate(188.9 185.9) rotate(-134.9)"><rect x="-1.2" y="-1.20" width="106.9" height="2.40" rx="1.20" fill="#fff" fill-opacity=".4" stroke="#000" stroke-opacity=".25" stroke-width=".9"/></g><g transform="translate(203.1 185.9) rotate(-45.1)"><rect x="-1.2" y="-1.20" width="76.9" height="2.40" rx="1.20" fill="#fff" fill-opacity=".4" stroke="#000" stroke-opacity=".25" stroke-width=".9"/></g><g transform="translate(188.9 200.1) rotate(134.9)"><rect x="-1.2" y="-1.20" width="76.9" height="2.40" rx="1.20" fill="#fff" fill-opacity=".4" stroke="#000" stroke-opacity=".25" stroke-width=".9"/></g><g transform="translate(203.1 399.1) rotate(45.1)"><rect x="-1.2" y="-1.20" width="110.9" height="2.40" rx="1.20" fill="#fff" fill-opacity=".4" stroke="#000" stroke-opacity=".25" stroke-width=".9"/></g><g transform="translate(188.9 384.9) rotate(-134.9)"><rect x="-1.2" y="-1.20" width="106.9" height="2.40" rx="1.20" fill="#fff" fill-opacity=".4" stroke="#000" stroke-opacity=".25" stroke-width=".9"/></g><g transform="translate(203.1 384.9) rotate(-45.1)"><rect x="-1.2" y="-1.20" width="76.9" height="2.40" rx="1.20" fill="#fff" fill-opacity=".4" stroke="#000" stroke-opacity=".25" stroke-width=".9"/></g><g transform="translate(188.9 399.1) rotate(134.9)"><rect x="-1.2" y="-1.20" width="76.9" height="2.40" rx="1.20" fill="#fff" fill-opacity=".4" stroke="#000" stroke-opacity=".25" stroke-width=".9"/></g><g transform="translate(203.1 598.1) rotate(45.1)"><rect x="-1.2" y="-1.20" width="110.9" height="2.40" rx="1.20" fill="#fff" fill-opacity=".4" stroke="#000" stroke-opacity=".25" stroke-width=".9"/></g><g transform="translate(188.9 583.9) rotate(-134.9)"><rect x="-1.2" y="-1.20" width="106.9" height="2.40" rx="1.20" fill="#fff" fill-opacity=".4" stroke="#000" stroke-opacity=".25" stroke-width=".9"/></g><g transform="translate(203.1 583.9) rotate(-45.1)"><rect x="-1.2" y="-1.20" width="76.9" height="2.40" rx="1.20" fill="#fff" fill-opacity=".4" stroke="#000" stroke-opacity=".25" stroke-width=".9"/></g><g transform="translate(188.9 598.1) rotate(134.9)"><rect x="-1.2" y="-1.20" width="76.9" height="2.40" rx="1.20" fill="#fff" fill-opacity=".4" stroke="#000" stroke-opacity=".25" stroke-width=".9"/></g><g transform="translate(401.6 1.1) rotate(45.1)"><rect x="-1.2" y="-1.20" width="110.9" height="2.40" rx="1.20" fill="#fff" fill-opacity=".4" stroke="#000" stroke-opacity=".25" stroke-width=".9"/></g><g transform="translate(387.4 -13.1) rotate(-134.9)"><rect x="-1.2" y="-1.20" width="106.9" height="2.40" rx="1.20" fill="#fff" fill-opacity=".4" stroke="#000" stroke-opacity=".25" stroke-width=".9"/></g><g transform="translate(401.6 -13.1) rotate(-45.1)"><rect x="-1.2" y="-1.20" width="76.9" height="2.40" rx="1.20" fill="#fff" fill-opacity=".4" stroke="#000" stroke-opacity=".25" stroke-width=".9"/></g><g transform="translate(387.4 1.1) rotate(134.9)"><rect x="-1.2" y="-1.20" width="76.9" height="2.40" rx="1.20" fill="#fff" fill-opacity=".4" stroke="#000" stroke-opacity=".25" stroke-width=".9"/></g><g transform="translate(401.6 200.1) rotate(45.1)"><rect x="-1.2" y="-1.20" width="110.9" height="2.40" rx="1.20" fill="#fff" fill-opacity=".4" stroke="#000" stroke-opacity=".25" stroke-width=".9"/></g><g transform="translate(387.4 185.9) rotate(-134.9)"><rect x="-1.2" y="-1.20" width="106.9" height="2.40" rx="1.20" fill="#fff" fill-opacity=".4" stroke="#000" stroke-opacity=".25" stroke-width=".9"/></g><g transform="translate(401.6 185.9) rotate(-45.1)"><rect x="-1.2" y="-1.20" width="76.9" height="2.40" rx="1.20" fill="#fff" fill-opacity=".4" stroke="#000" stroke-opacity=".25" stroke-width=".9"/></g><g transform="translate(387.4 200.1) rotate(134.9)"><rect x="-1.2" y="-1.20" width="76.9" height="2.40" rx="1.20" fill="#fff" fill-opacity=".4" stroke="#000" stroke-opacity=".25" stroke-width=".9"/></g><g transform="translate(401.6 399.1) rotate(45.1)"><rect x="-1.2" y="-1.20" width="110.9" height="2.40" rx="1.20" fill="#fff" fill-opacity=".4" stroke="#000" stroke-opacity=".25" stroke-width=".9"/></g><g transform="translate(387.4 384.9) rotate(-134.9)"><rect x="-1.2" y="-1.20" width="106.9" height="2.40" rx="1.20" fill="#fff" fill-opacity=".4" stroke="#000" stroke-opacity=".25" stroke-width=".9"/></g><g transform="translate(401.6 384.9) rotate(-45.1)"><rect x="-1.2" y="-1.20" width="76.9" height="2.40" rx="1.20" fill="#fff" fill-opacity=".4" stroke="#000" stroke-opacity=".25" stroke-width=".9"/></g><g transform="translate(387.4 399.1) rotate(134.9)"><rect x="-1.2" y="-1.20" width="76.9" height="2.40" rx="1.20" fill="#fff" fill-opacity=".4" stroke="#000" stroke-opacity=".25" stroke-width=".9"/></g><g transform="translate(401.6 598.1) rotate(45.1)"><rect x="-1.2" y="-1.20" width="110.9" height="2.40" rx="1.20" fill="#fff" fill-opacity=".4" stroke="#000" stroke-opacity=".25" stroke-width=".9"/></g><g transform="translate(387.4 583.9) rotate(-134.9)"><rect x="-1.2" y="-1.20" width="106.9" height="2.40" rx="1.20" fill="#fff" fill-opacity=".4" stroke="#000" stroke-opacity=".25" stroke-width=".9"/></g><g transform="translate(401.6 583.9) rotate(-45.1)"><rect x="-1.2" y="-1.20" width="76.9" height="2.40" rx="1.20" fill="#fff" fill-opacity=".4" stroke="#000" stroke-opacity=".25" stroke-width=".9"/></g><g transform="translate(387.4 598.1) rotate(134.9)"><rect x="-1.2" y="-1.20" width="76.9" height="2.40" rx="1.20" fill="#fff" fill-opacity=".4" stroke="#000" stroke-opacity=".25" stroke-width=".9"/></g><g transform="translate(600.1 1.1) rotate(45.1)"><rect x="-1.2" y="-1.20" width="110.9" height="2.40" rx="1.20" fill="#fff" fill-opacity=".4" stroke="#000" stroke-opacity=".25" stroke-width=".9"/></g><g transform="translate(585.9 -13.1) rotate(-134.9)"><rect x="-1.2" y="-1.20" width="106.9" height="2.40" rx="1.20" fill="#fff" fill-opacity=".4" stroke="#000" stroke-opacity=".25" stroke-width=".9"/></g><g transform="translate(600.1 -13.1) rotate(-45.1)"><rect x="-1.2" y="-1.20" width="76.9" height="2.40" rx="1.20" fill="#fff" fill-opacity=".4" stroke="#000" stroke-opacity=".25" stroke-width=".9"/></g><g transform="translate(585.9 1.1) rotate(134.9)"><rect x="-1.2" y="-1.20" width="76.9" height="2.40" rx="1.20" fill="#fff" fill-opacity=".4" stroke="#000" stroke-opacity=".25" stroke-width=".9"/></g><g transform="translate(600.1 200.1) rotate(45.1)"><rect x="-1.2" y="-1.20" width="110.9" height="2.40" rx="1.20" fill="#fff" fill-opacity=".4" stroke="#000" stroke-opacity=".25" stroke-width=".9"/></g><g transform="translate(585.9 185.9) rotate(-134.9)"><rect x="-1.2" y="-1.20" width="106.9" height="2.40" rx="1.20" fill="#fff" fill-opacity=".4" stroke="#000" stroke-opacity=".25" stroke-width=".9"/></g><g transform="translate(600.1 185.9) rotate(-45.1)"><rect x="-1.2" y="-1.20" width="76.9" height="2.40" rx="1.20" fill="#fff" fill-opacity=".4" stroke="#000" stroke-opacity=".25" stroke-width=".9"/></g><g transform="translate(585.9 200.1) rotate(134.9)"><rect x="-1.2" y="-1.20" width="76.9" height="2.40" rx="1.20" fill="#fff" fill-opacity=".4" stroke="#000" stroke-opacity=".25" stroke-width=".9"/></g><g transform="translate(600.1 399.1) rotate(45.1)"><rect x="-1.2" y="-1.20" width="110.9" height="2.40" rx="1.20" fill="#fff" fill-opacity=".4" stroke="#000" stroke-opacity=".25" stroke-width=".9"/></g><g transform="translate(585.9 384.9) rotate(-134.9)"><rect x="-1.2" y="-1.20" width="106.9" height="2.40" rx="1.20" fill="#fff" fill-opacity=".4" stroke="#000" stroke-opacity=".25" stroke-width=".9"/></g><g transform="translate(600.1 384.9) rotate(-45.1)"><rect x="-1.2" y="-1.20" width="76.9" height="2.40" rx="1.20" fill="#fff" fill-opacity=".4" stroke="#000" stroke-opacity=".25" stroke-width=".9"/></g><g transform="translate(585.9 399.1) rotate(134.9)"><rect x="-1.2" y="-1.20" width="76.9" height="2.40" rx="1.20" fill="#fff" fill-opacity=".4" stroke="#000" stroke-opacity=".25" stroke-width=".9"/></g><g transform="translate(600.1 598.1) rotate(45.1)"><rect x="-1.2" y="-1.20" width="110.9" height="2.40" rx="1.20" fill="#fff" fill-opacity=".4" stroke="#000" stroke-opacity=".25" stroke-width=".9"/></g><g transform="translate(585.9 583.9) rotate(-134.9)"><rect x="-1.2" y="-1.20" width="106.9" height="2.40" rx="1.20" fill="#fff" fill-opacity=".4" stroke="#000" stroke-opacity=".25" stroke-width=".9"/></g><g transform="translate(600.1 583.9) rotate(-45.1)"><rect x="-1.2" y="-1.20" width="76.9" height="2.40" rx="1.20" fill="#fff" fill-opacity=".4" stroke="#000" stroke-opacity=".25" stroke-width=".9"/></g><g transform="translate(585.9 598.1) rotate(134.9)"><rect x="-1.2" y="-1.20" width="76.9" height="2.40" rx="1.20" fill="#fff" fill-opacity=".4" stroke="#000" stroke-opacity=".25" stroke-width=".9"/></g><g transform="translate(798.6 1.1) rotate(45.1)"><rect x="-1.2" y="-1.20" width="110.9" height="2.40" rx="1.20" fill="#fff" fill-opacity=".4" stroke="#000" stroke-opacity=".25" stroke-width=".9"/></g><g transform="translate(784.4 -13.1) rotate(-134.9)"><rect x="-1.2" y="-1.20" width="106.9" height="2.40" rx="1.20" fill="#fff" fill-opacity=".4" stroke="#000" stroke-opacity=".25" stroke-width=".9"/></g><g transform="translate(798.6 -13.1) rotate(-45.1)"><rect x="-1.2" y="-1.20" width="76.9" height="2.40" rx="1.20" fill="#fff" fill-opacity=".4" stroke="#000" stroke-opacity=".25" stroke-width=".9"/></g><g transform="translate(784.4 1.1) rotate(134.9)"><rect x="-1.2" y="-1.20" width="76.9" height="2.40" rx="1.20" fill="#fff" fill-opacity=".4" stroke="#000" stroke-opacity=".25" stroke-width=".9"/></g><g transform="translate(798.6 200.1) rotate(45.1)"><rect x="-1.2" y="-1.20" width="110.9" height="2.40" rx="1.20" fill="#fff" fill-opacity=".4" stroke="#000" stroke-opacity=".25" stroke-width=".9"/></g><g transform="translate(784.4 185.9) rotate(-134.9)"><rect x="-1.2" y="-1.20" width="106.9" height="2.40" rx="1.20" fill="#fff" fill-opacity=".4" stroke="#000" stroke-opacity=".25" stroke-width=".9"/></g><g transform="translate(798.6 185.9) rotate(-45.1)"><rect x="-1.2" y="-1.20" width="76.9" height="2.40" rx="1.20" fill="#fff" fill-opacity=".4" stroke="#000" stroke-opacity=".25" stroke-width=".9"/></g><g transform="translate(784.4 200.1) rotate(134.9)"><rect x="-1.2" y="-1.20" width="76.9" height="2.40" rx="1.20" fill="#fff" fill-opacity=".4" stroke="#000" stroke-opacity=".25" stroke-width=".9"/></g><g transform="translate(798.6 399.1) rotate(45.1)"><rect x="-1.2" y="-1.20" width="110.9" height="2.40" rx="1.20" fill="#fff" fill-opacity=".4" stroke="#000" stroke-opacity=".25" stroke-width=".9"/></g><g transform="translate(784.4 384.9) rotate(-134.9)"><rect x="-1.2" y="-1.20" width="106.9" height="2.40" rx="1.20" fill="#fff" fill-opacity=".4" stroke="#000" stroke-opacity=".25" stroke-width=".9"/></g><g transform="translate(798.6 384.9) rotate(-45.1)"><rect x="-1.2" y="-1.20" width="76.9" height="2.40" rx="1.20" fill="#fff" fill-opacity=".4" stroke="#000" stroke-opacity=".25" stroke-width=".9"/></g><g transform="translate(784.4 399.1) rotate(134.9)"><rect x="-1.2" y="-1.20" width="76.9" height="2.40" rx="1.20" fill="#fff" fill-opacity=".4" stroke="#000" stroke-opacity=".25" stroke-width=".9"/></g><g transform="translate(798.6 598.1) rotate(45.1)"><rect x="-1.2" y="-1.20" width="110.9" height="2.40" rx="1.20" fill="#fff" fill-opacity=".4" stroke="#000" stroke-opacity=".25" stroke-width=".9"/></g><g transform="translate(784.4 583.9) rotate(-134.9)"><rect x="-1.2" y="-1.20" width="106.9" height="2.40" rx="1.20" fill="#fff" fill-opacity=".4" stroke="#000" stroke-opacity=".25" stroke-width=".9"/></g><g transform="translate(798.6 583.9) rotate(-45.1)"><rect x="-1.2" y="-1.20" width="76.9" height="2.40" rx="1.20" fill="#fff" fill-opacity=".4" stroke="#000" stroke-opacity=".25" stroke-width=".9"/></g><g transform="translate(784.4 598.1) rotate(134.9)"><rect x="-1.2" y="-1.20" width="76.9" height="2.40" rx="1.20" fill="#fff" fill-opacity=".4" stroke="#000" stroke-opacity=".25" stroke-width=".9"/></g></g>
<defs><mask id="wmm" maskUnits="userSpaceOnUse" x="-75" y="-40" width="150" height="75"><rect x="-75" y="-40" width="150" height="75" fill="#fff"/><text y="9.5" font-size="31" font-weight="bold" text-anchor="middle" fill="#000" stroke="#000" stroke-linejoin="round" stroke-width="2.2" textLength="90" lengthAdjust="spacingAndGlyphs">fiverr.</text></mask><g id="wmt" stroke-linejoin="round"><g mask="url(#wmm)"><text y="12.3" fill="#000" stroke="#000" stroke-width="2.2" opacity=".3" textLength="90" lengthAdjust="spacingAndGlyphs">fiverr.</text><text y="9.5" fill="#000" stroke="#000" stroke-width="3.3" opacity=".27" textLength="90" lengthAdjust="spacingAndGlyphs">fiverr.</text></g><g opacity=".42"><text y="9.5" fill="#fff" stroke="#fff" stroke-width="2.2" textLength="90" lengthAdjust="spacingAndGlyphs">fiverr.</text></g></g></defs>
<use href="#wmt" transform="translate(92.2 91.5) rotate(-45)" font-size="31" font-weight="bold" text-anchor="middle" style="font-family:'Liberation Sans',sans-serif"/>
<use href="#wmt" transform="translate(92.2 290.5) rotate(-45)" font-size="31" font-weight="bold" text-anchor="middle" style="font-family:'Liberation Sans',sans-serif"/>
<use href="#wmt" transform="translate(92.2 489.5) rotate(-45)" font-size="31" font-weight="bold" text-anchor="middle" style="font-family:'Liberation Sans',sans-serif"/>
<use href="#wmt" transform="translate(290.8 91.5) rotate(-45)" font-size="31" font-weight="bold" text-anchor="middle" style="font-family:'Liberation Sans',sans-serif"/>
<use href="#wmt" transform="translate(290.8 290.5) rotate(-45)" font-size="31" font-weight="bold" text-anchor="middle" style="font-family:'Liberation Sans',sans-serif"/>
<use href="#wmt" transform="translate(290.8 489.5) rotate(-45)" font-size="31" font-weight="bold" text-anchor="middle" style="font-family:'Liberation Sans',sans-serif"/>
<use href="#wmt" transform="translate(489.2 91.5) rotate(-45)" font-size="31" font-weight="bold" text-anchor="middle" style="font-family:'Liberation Sans',sans-serif"/>
<use href="#wmt" transform="translate(489.2 290.5) rotate(-45)" font-size="31" font-weight="bold" text-anchor="middle" style="font-family:'Liberation Sans',sans-serif"/>
<use href="#wmt" transform="translate(489.2 489.5) rotate(-45)" font-size="31" font-weight="bold" text-anchor="middle" style="font-family:'Liberation Sans',sans-serif"/>
<use href="#wmt" transform="translate(687.8 91.5) rotate(-45)" font-size="31" font-weight="bold" text-anchor="middle" style="font-family:'Liberation Sans',sans-serif"/>
<use href="#wmt" transform="translate(687.8 290.5) rotate(-45)" font-size="31" font-weight="bold" text-anchor="middle" style="font-family:'Liberation Sans',sans-serif"/>
<use href="#wmt" transform="translate(687.8 489.5) rotate(-45)" font-size="31" font-weight="bold" text-anchor="middle" style="font-family:'Liberation Sans',sans-serif"/>
<g fill="none" stroke-linecap="butt"><path d="M61.8 63C62.5 56 67 52.4 73 52.4C80 52.4 85 56.5 87 63" stroke="#93d1f1" stroke-width="4.6"/><path d="M72.6 63C74 50.5 82 42 91.5 42C102 42 108.5 50.5 108.2 63" stroke="#17244f" stroke-width="4.7"/><path d="M45.1 63C44 46 52 35.2 63.5 35.2C77 35.2 89 47 95.6 63" stroke="#149c8d" stroke-width="4.6"/></g>
<rect x="37.1" y="62.7" width="77.4" height="30" fill="#fff" fill-opacity=".8" stroke="#17244f" stroke-width="1"/>
<text x="75.5" y="75.2" font-size="13.4" font-weight="bold" fill="#17244f" text-anchor="middle" textLength="65.5" lengthAdjust="spacingAndGlyphs" style="font-family:'DejaVu Sans',sans-serif">الطيف مول</text>
<text x="42.5" y="89.1" font-size="12.3" font-weight="bold" fill="#17244f" stroke="#17244f" stroke-width=".3" textLength="36.7" lengthAdjust="spacingAndGlyphs">alTaif</text>
<text x="82.2" y="89.1" font-size="8.2" font-weight="bold" fill="#17244f" stroke="#17244f" stroke-width=".3" textLength="26" lengthAdjust="spacingAndGlyphs">MALL</text>
<text x="39.4" y="107.4" font-size="9.60" class="lb" textLength="72.0" lengthAdjust="spacingAndGlyphs" style="fill:#5c6a88">GROUND FLOOR</text>
</svg></body></html>
